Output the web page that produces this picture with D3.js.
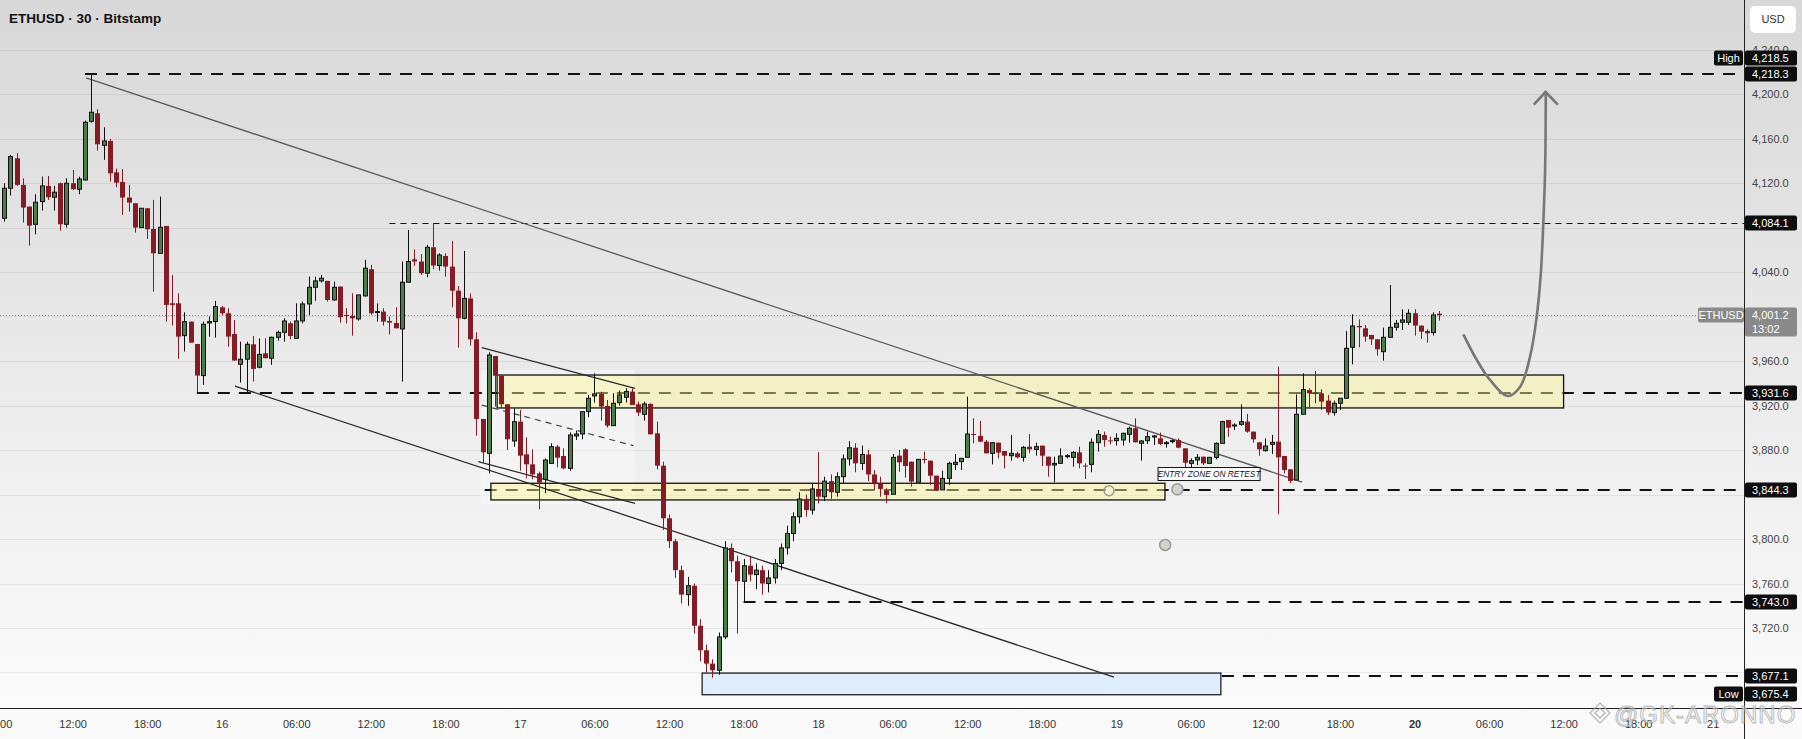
<!DOCTYPE html>
<html>
<head>
<meta charset="utf-8">
<script src="https://cdn.jsdelivr.net/npm/d3@7"></script>
<style>
html, body { margin: 0; padding: 0; background: #fafafa; overflow: hidden; }
svg { display: block; font-family: "Liberation Sans", Arial, sans-serif; }
</style>
</head>
<body>
<svg id="main-svg" width="1802" height="739"></svg>
<script>
(function() {

    var at = function(d, h, m) { return new Date(2025, 7, d, h, m || 0); };

    // bars, 30 min, first one opens 15th 06:30
    var barStart = at(15, 6, 30);
    var barMinutes = 30;

    var opens = [
     4088.3,4115.3,4142.2,4118.3,4098.8,4082.9,4103.3,4117.4,4107.2,4119.8,4082.9,4119.8,
     4114.4,4122.7,4175.5,4182.7,4153.9,4157.8,4129.6,4120.9,4106.9,4101.8,4079.9,4097.3,
     4078.7,4056.8,4081.4,4011.9,4011.9,3982.8,3995.4,3975.3,3946.9,3994.2,3995.4,4008.3,
     4002.9,3984.3,3957.1,3961.6,3975.0,3954.4,3966.9,3962.5,3981.3,3985.8,3993.9,3980.4,
     3996.0,4011.3,4026.3,4032.0,4032.0,4014.9,4026.9,4001.4,4000.5,3997.8,4018.5,4042.5,
     4004.4,4004.4,3996.0,3994.2,3988.8,4030.8,4051.4,4049.4,4038.9,4062.2,4045.8,4054.4,
     4044.8,4023.2,3998.4,4016.3,3979.5,3907.9,3877.0,3964.5,3946.8,3921.1,3888.1,3905.5,
     3876.1,3867.1,3859.0,3853.6,3868.0,3883.0,3874.6,3863.5,3892.6,3894.4,3914.5,3928.6,
     3930.4,3919.6,3901.9,3922.6,3927.4,3932.5,3921.1,3912.1,3921.4,3895.0,3865.9,3818.6,
     3798,3772,3750,3758,3722,3700,3688,3682,3712,3792,3780,3762,
     3776,3768,3772,3760,3765,3778,3792,3805,3820,3836,3826,3845,
     3838,3852,3842,3856,3872,3882,3868,3876,3858,3850,
     3843.5,3840.2,3874.9,3880.6,3869.5,3851.0,3871.9,3870.4,3856.9,3844.1,3854.5,3867.1,
     3869.5,3873.4,3894.4,3892.6,3887.5,3877.0,3886.6,3879.1,3874.9,3877.0,3873.4,3883.0,
     3880.6,3883.9,3874.0,3866.5,3868.0,3874.0,3873.4,3877.9,3866.0,3867.1,3886.6,3893.5,
     3888.6,3888.4,3889.0,3894.1,3899.5,3886.0,3888.4,3892.6,3890.5,3886.6,3888.4,3889.0,
     3881.5,3868.0,3871.0,3874.0,3868.0,3873.4,3886.0,3907.0,3902.5,3903.1,3905.5,3896.5,
     3886.9,3879.4,3885.1,3887.5,3874.6,3862.6,3853.0,3912.1,3933.9,3931.5,3931.0,3924.4,
     3913.6,3922.0,3926.5,3972.3,3991.5,3989.4,3983.4,3979.5,3968.4,3981.3,3990.3,3994.8,
     3994.8,4002.9,3991.8,3987.0,3985.5,4002.5
    ];
    var highs = [
     4119.8,4145.2,4146.7,4124.2,4098.8,4109.9,4125.7,4126.3,4117.4,4120.4,4124.2,4131.7,
     4125.7,4176.1,4218.5,4186.3,4170.1,4159.6,4132.9,4132.6,4118.3,4101.8,4097.3,4097.3,
     4104.8,4107.8,4081.4,4037.4,4020.9,4003.8,3995.4,3975.3,3995.4,3999.9,4014.0,4009.5,
     4007.4,3996.9,3977.4,3977.4,3982.5,3980.4,3980.4,3981.9,3987.3,3998.4,3995.4,4011.9,
     4013.4,4035.9,4035.9,4037.4,4032.0,4031.4,4026.9,4007.4,4020.9,4019.4,4050.9,4046.4,
     4011.9,4007.4,3999.9,4008.3,4049.4,4077.8,4060.4,4056.2,4064.3,4084.1,4056.8,4056.8,
     4067.9,4027.4,4058.9,4020.8,3985.8,3907.9,3967.8,3964.5,3946.8,3921.1,3917.5,3916.0,
     3891.4,3880.6,3860.5,3872.5,3886.0,3884.5,3881.5,3895.9,3897.4,3914.5,3929.5,3948.9,
     3932.5,3925.0,3931.0,3933.4,3935.5,3935.5,3923.5,3923.5,3922.0,3905.5,3869.5,3822.0,
     3800,3776,3766,3760,3728,3705,3692,3716,3798,3796,3785,3782,
     3784,3778,3776,3772,3782,3796,3812,3824,3842,3840,3850,3878,
     3856,3858,3860,3876,3888,3886,3884,3880,3862,3856,
     3845.6,3876.4,3880.0,3881.5,3869.5,3871.6,3878.5,3870.4,3856.9,3861.4,3869.5,3876.4,
     3872.5,3928.0,3908.5,3906.1,3889.0,3886.6,3886.6,3879.1,3893.5,3878.5,3883.6,3894.4,
     3886.6,3883.9,3874.0,3874.0,3881.5,3876.4,3879.1,3883.0,3868.0,3890.5,3898.0,3896.5,
     3892.0,3895.0,3895.6,3901.0,3908.5,3889.0,3896.5,3893.5,3895.6,3888.1,3889.6,3890.5,
     3881.5,3872.5,3876.4,3874.0,3873.4,3886.9,3906.4,3907.0,3904.0,3921.1,3912.4,3896.5,
     3886.9,3890.5,3893.5,3954.9,3874.6,3862.6,3930.0,3948.9,3935.5,3951.0,3934.6,3929.5,
     3924.4,3926.5,3987.0,4002.0,3997.5,3992.4,3983.4,3979.5,3990.0,4028.3,3996.9,4006.5,
     4006.5,4006.5,3991.8,3988.5,4003.8,4004.9
    ];
    var lows = [
     4085.3,4108.7,4117.4,4084.4,4063.7,4073.9,4095.2,4104.8,4095.2,4077.2,4079.9,4113.8,
     4109.9,4122.1,4174.3,4149.1,4140.8,4121.2,4116.2,4091.3,4094.3,4075.4,4079.9,4069.7,
     4022.4,4056.8,3995.4,3991.8,3961.9,3968.5,3976.5,3931.6,3938.5,3981.9,3981.0,4001.4,
     3972.9,3960.4,3940.6,3930.4,3941.5,3953.5,3962.5,3956.5,3978.3,3977.4,3979.5,3980.4,
     3993.9,4001.4,4014.0,4030.5,4013.4,4014.3,3994.5,3993.9,3982.8,3996.3,4017.9,4001.4,
     3995.4,3991.8,3984.0,3989.4,3941.5,4030.8,4045.5,4037.4,4035.3,4042.5,4041.3,4035.9,
     4008.2,3972.0,3997.5,3973.8,3892.9,3868.9,3859.0,3919.0,3917.5,3880.0,3883.0,3861.4,
     3854.6,3853.6,3826.7,3841.1,3867.4,3864.4,3862.6,3861.4,3889.0,3889.6,3909.4,3922.6,
     3906.4,3900.1,3901.9,3919.9,3922.6,3920.5,3910.6,3906.4,3894.1,3862.6,3808.1,3792.0,
     3765,3742,3740,3715,3690,3680,3675.4,3678,3710,3770,3715,3743,
     3762,3755,3750,3752,3760,3772,3786,3798,3814,3820,3822,3832,
     3834,3836,3838,3850,3866,3860,3862,3852,3844,3838,
     3832.1,3840.2,3860.5,3855.1,3847.1,3851.0,3868.0,3848.6,3843.5,3844.1,3848.6,3862.0,
     3862.0,3873.4,3886.0,3886.9,3877.0,3867.1,3872.5,3863.5,3870.4,3872.5,3869.5,3877.0,
     3874.9,3865.6,3856.0,3851.0,3868.0,3872.5,3865.0,3863.5,3854.0,3860.0,3878.5,3883.0,
     3885.1,3884.0,3884.0,3886.6,3886.9,3870.4,3885.4,3884.5,3884.5,3882.1,3886.0,3881.5,
     3863.5,3863.5,3866.5,3866.5,3867.4,3871.6,3886.0,3892.0,3898.0,3901.9,3895.6,3886.6,
     3874.9,3878.5,3876.4,3822.2,3859.0,3850.1,3853.0,3912.1,3917.5,3922.0,3916.0,3911.5,
     3910.9,3916.0,3926.5,3957.0,3972.3,3977.4,3974.4,3964.8,3960.3,3981.3,3987.3,3987.9,
     3992.4,3982.8,3979.8,3976.5,3982.8,3996.3
    ];
    var closes = [
     4115.3,4143.7,4118.3,4097.9,4081.7,4102.7,4117.4,4107.2,4111.7,4082.9,4119.8,4114.4,
     4123.6,4174.6,4183.6,4154.8,4157.8,4128.7,4120.3,4106.9,4102.4,4079.9,4097.3,4078.4,
     4056.8,4080.2,4010.4,4010.4,3981.9,3995.4,3976.5,3946.9,3993.0,3995.4,4008.9,4002.9,
     3981.9,3960.4,3961.6,3975.0,3952.9,3966.0,3962.5,3981.3,3985.8,3996.0,3982.5,3996.0,
     4011.3,4026.3,4032.0,4034.4,4014.9,4026.3,3999.3,4000.5,3998.4,4019.4,4043.4,4002.9,
     4004.4,3995.4,3994.5,3989.4,4030.8,4049.4,4049.4,4038.9,4062.2,4045.8,4055.3,4044.9,
     4023.2,3998.4,4016.3,3979.5,3907.9,3877.9,3965.4,3946.8,3921.1,3889.6,3905.5,3874.9,
     3867.1,3858.1,3850.7,3871.0,3883.0,3873.1,3863.5,3893.5,3894.4,3914.5,3926.5,3930.4,
     3919.0,3901.9,3922.0,3929.5,3932.5,3920.5,3913.6,3921.4,3894.1,3865.9,3818.6,3798.0,
     3772,3750,3758,3722,3700,3688,3682,3712,3792,3780,3762,3776,
     3768,3772,3760,3765,3778,3792,3805,3820,3836,3826,3845,3838,
     3852,3842,3856,3872,3882,3868,3876,3858,3850,3845,
     3839.6,3873.4,3868.9,3865.6,3851.6,3871.6,3871.3,3856.9,3843.5,3854.5,3868.0,3868.9,
     3872.5,3894.4,3893.5,3887.5,3877.0,3886.6,3877.6,3874.9,3877.0,3873.4,3882.4,3880.6,
     3883.0,3874.9,3865.9,3868.0,3874.6,3874.9,3877.9,3868.0,3865.6,3887.0,3894.1,3889.0,
     3888.4,3890.5,3895.0,3899.5,3886.9,3888.1,3892.0,3892.6,3885.4,3886.6,3888.4,3882.1,
     3868.6,3870.4,3873.4,3868.0,3873.4,3886.0,3905.5,3900.1,3902.5,3905.5,3896.5,3889.6,
     3880.6,3883.6,3886.9,3873.4,3862.0,3852.2,3912.1,3934.3,3931.0,3930.4,3923.5,3913.6,
     3922.0,3926.5,3971.4,3991.5,3990.3,3981.9,3979.5,3970.5,3981.3,3990.3,3993.9,3996.9,
     4002.9,3991.8,3986.4,3984.9,4001.4,4001.2
    ];

    var priceTicks = [4240,4200,4160,4120,4080,4040,4000,3960,3920,3880,3840,3800,3760,3720,3680];

    // horizontal levels
    var levelPrices = [4218.3, 3931.6, 3844.3, 3743.0, 3677.1];
    var levelFrom = [at(15,13,0), at(15,22,0), at(16,21,10), at(17,18,0), at(19,8,30)];
    var minorLevelPrice = 4084.1;
    var minorLevelFrom = at(16,13,30);

    var highPrice = 4218.5, lowPrice = 3675.4, lastPrice = 4001.2, countdown = "13:02";

    // zones [from, to, top price, bottom price]
    var zoneFrom = [at(16,22,10), at(16,21,40)];
    var zoneTo = [at(20,12,0), at(19,3,55)];
    var zoneTop = [3947.4, 3850.1];
    var zoneBottom = [3917.8, 3835.1];
    var lowBox = [at(17,14,40), at(19,8,25), 3679.5, 3660.0];
    var flagShade = [at(16,20,50), at(17,9,15), 3952.0, 3831.0];

    // trend lines [t1, p1, t2, p2]
    var trendLines = [
        [at(15,13,5), 4214.4, at(19,14,57), 3851.2],
        [at(16,1,4), 3937.5, at(18,23,49), 3675.9],
        [at(16,20,56), 3972.0, at(17,9,16), 3935.5],
        [at(16,20,39), 3869.5, at(17,9,16), 3832.1]
    ];
    var flagMid = [at(16,20,56), 3920.4, at(17,9,8), 3883.9];

    var arrowPath = [
        [at(20,3,56), 3984.0], [at(20,5,1), 3960.9], [at(20,6,5), 3942.9], [at(20,7,29), 3928.5],
        [at(20,8,30), 3936.9], [at(20,9,18), 3963.9], [at(20,9,50), 3999.8], [at(20,10,10), 4038.8],
        [at(20,10,22), 4083.8], [at(20,10,31), 4134.7], [at(20,10,34), 4200.6]
    ];
    var arrowHead = [[at(20,9,36), 4190.4], [at(20,10,33), 4201.8], [at(20,11,32), 4190.4]];

    var markers = [[at(18,23,25), 3843.4, false], [at(19,4,55), 3844.7, true], [at(19,3,56), 3794.6, true]];
    var noteText = "ENTRY ZONE ON RETEST";
    var noteAt = [at(19,7,28), 3858.4];

    var W = 1802, H = 739, plotRight = 1744, plotBottom = 708;

    var x = d3.scaleTime()
        .domain([at(16,0,0), at(21,0,0)])
        .range([221.7, 1712.7]);
    var y = d3.scaleLinear()
        .domain([3720, 4200])
        .range([628, 94]);

    var bars = opens.map(function(o, i) {
        return {
            t: d3.timeMinute.offset(barStart, i * barMinutes),
            o: o, h: highs[i], l: lows[i], c: closes[i]
        };
    });

    var svg = d3.select("#main-svg");
    var defs = svg.append("defs");
    var grad = defs.append("linearGradient")
        .attr("id", "bg").attr("x1", 0).attr("y1", 0).attr("x2", 0).attr("y2", 1);
    grad.append("stop").attr("offset", "0%").attr("stop-color", "#d8d8d8");
    grad.append("stop").attr("offset", "100%").attr("stop-color", "#fbfbfb");
    defs.append("clipPath").attr("id", "plot-clip")
        .append("rect").attr("width", plotRight).attr("height", plotBottom);

    svg.append("rect").attr("width", W).attr("height", plotBottom).attr("fill", "url(#bg)");
    svg.append("rect").attr("y", plotBottom).attr("width", W).attr("height", H - plotBottom).attr("fill", "#fafafa");

    var plot = svg.append("g").attr("clip-path", "url(#plot-clip)");

    // grid
    plot.selectAll(".grid")
    .data(priceTicks)
    .enter()
    .append("line")
    .attr("x1", 0).attr("x2", plotRight)
    .attr("y1", function(d) { return Math.round(y(d)) + 0.5; })
    .attr("y2", function(d) { return Math.round(y(d)) + 0.5; })
    .attr("stroke", "rgba(0,0,0,0.06)");

    // last price dotted line
    plot.append("line")
    .attr("x1", 0).attr("x2", plotRight)
    .attr("y1", Math.round(y(lastPrice)) + 0.5).attr("y2", Math.round(y(lastPrice)) + 0.5)
    .attr("stroke", "#888").attr("stroke-dasharray", "1,2");

    // flag shade
    plot.append("rect")
    .attr("x", x(flagShade[0])).attr("width", x(flagShade[1]) - x(flagShade[0]))
    .attr("y", y(flagShade[2])).attr("height", y(flagShade[3]) - y(flagShade[2]))
    .attr("fill", "rgba(255,255,255,0.35)");

    // levels
    plot.selectAll(".level")
    .data(levelPrices)
    .enter()
    .append("line")
    .attr("x1", function(d, i) { return x(levelFrom[i]); })
    .attr("x2", plotRight)
    .attr("y1", function(d) { return Math.round(y(d)); })
    .attr("y2", function(d) { return Math.round(y(d)); })
    .attr("stroke", "#111").attr("stroke-width", 2)
    .attr("stroke-dasharray", "12,9");

    plot.append("line")
    .attr("x1", x(minorLevelFrom)).attr("x2", plotRight)
    .attr("y1", Math.round(y(minorLevelPrice)) + 0.5).attr("y2", Math.round(y(minorLevelPrice)) + 0.5)
    .attr("stroke", "#111").attr("stroke-width", 1)
    .attr("stroke-dasharray", "6,5");

    // zones
    plot.selectAll(".zone")
    .data(zoneTop)
    .enter()
    .append("rect")
    .attr("x", function(d, i) { return x(zoneFrom[i]); })
    .attr("width", function(d, i) { return x(zoneTo[i]) - x(zoneFrom[i]); })
    .attr("y", function(d) { return y(d); })
    .attr("height", function(d, i) { return y(zoneBottom[i]) - y(d); })
    .attr("fill", "rgba(255,246,150,0.45)")
    .attr("stroke", "#111").attr("stroke-width", 1.3);

    plot.append("rect")
    .attr("x", x(lowBox[0])).attr("width", x(lowBox[1]) - x(lowBox[0]))
    .attr("y", y(lowBox[2])).attr("height", y(lowBox[3]) - y(lowBox[2]))
    .attr("fill", "rgba(205,228,255,0.6)")
    .attr("stroke", "#111").attr("stroke-width", 1.2);

    // trend lines
    plot.selectAll(".trend")
    .data(trendLines)
    .enter()
    .append("line")
    .attr("x1", function(d) { return x(d[0]); })
    .attr("y1", function(d) { return y(d[1]); })
    .attr("x2", function(d) { return x(d[2]); })
    .attr("y2", function(d) { return y(d[3]); })
    .attr("stroke", function(d, i) { return i === 0 ? "#5a5a5a" : "#2a2a2a"; })
    .attr("stroke-width", 1.3);

    plot.append("line")
    .attr("x1", x(flagMid[0])).attr("y1", y(flagMid[1]))
    .attr("x2", x(flagMid[2])).attr("y2", y(flagMid[3]))
    .attr("stroke", "#444").attr("stroke-width", 1.2)
    .attr("stroke-dasharray", "6,5");

    // candles
    var candle = plot.selectAll(".candle")
    .data(bars)
    .enter()
    .append("g")
    .classed("candle", true);

    candle.append("line")
    .attr("x1", function(d) { return Math.round(x(d.t)) + 0.5; })
    .attr("x2", function(d) { return Math.round(x(d.t)) + 0.5; })
    .attr("y1", function(d) { return y(d.h); })
    .attr("y2", function(d) { return y(d.l); })
    .attr("stroke", function(d) { return d.c >= d.o ? "#111" : "#861a25"; })
    .attr("stroke-width", 1);

    candle.append("rect")
    .attr("x", function(d) { return d.c >= d.o ? Math.round(x(d.t)) - 1.5 : Math.round(x(d.t)) - 2; })
    .attr("width", function(d) { return d.c >= d.o ? 4 : 5; })
    .attr("y", function(d) { return y(Math.max(d.o, d.c)); })
    .attr("height", function(d) { return Math.max(1, Math.abs(y(d.o) - y(d.c))); })
    .attr("fill", function(d) { return d.c >= d.o ? "#4b7d49" : "#861a25"; })
    .attr("stroke", function(d) { return d.c >= d.o ? "#111" : "none"; })
    .attr("stroke-width", 1);

    // markers
    plot.selectAll(".marker")
    .data(markers)
    .enter()
    .append("circle")
    .attr("cx", function(d) { return x(d[0]); })
    .attr("cy", function(d) { return y(d[1]); })
    .attr("r", function(d) { return d[2] ? 5.5 : 5; })
    .attr("fill", function(d) { return d[2] ? "#d6d3cc" : "none"; })
    .attr("stroke", "#9a9a9a")
    .attr("stroke-width", 1.5);

    // note
    var note = plot.append("g")
        .attr("transform", "translate(" + x(noteAt[0]) + "," + y(noteAt[1]) + ")");
    note.append("rect")
    .attr("x", -51).attr("y", -6.5).attr("width", 102).attr("height", 13)
    .attr("fill", "#fff").attr("stroke", "#111").attr("stroke-width", 1);
    note.append("text")
    .attr("text-anchor", "middle").attr("dy", "0.35em")
    .attr("font-size", 8.3).attr("font-style", "italic")
    .attr("fill", "#111")
    .text(noteText);

    // arrow
    var arrowLine = d3.line()
        .x(function(d) { return x(d[0]); })
        .y(function(d) { return y(d[1]); });
    plot.append("path")
    .attr("d", arrowLine.curve(d3.curveCatmullRom)(arrowPath))
    .attr("fill", "none").attr("stroke", "#777").attr("stroke-width", 2.6);
    plot.append("path")
    .attr("d", arrowLine.curve(d3.curveLinear)(arrowHead))
    .attr("fill", "none").attr("stroke", "#777").attr("stroke-width", 2.6);

    // axes
    var timeTicks = d3.timeHour.every(6).range(at(15,6,0), at(21,0,1));
    var xAxis = d3.axisBottom(x)
        .tickValues(timeTicks)
        .tickSize(0)
        .tickPadding(12)
        .tickFormat(function(d) {
            return d.getHours() === 0 ? d3.timeFormat("%-d")(d) : d3.timeFormat("%H:%M")(d);
        });
    var gx = svg.append("g")
        .attr("transform", "translate(0," + plotBottom + ")")
        .call(xAxis);
    gx.select(".domain").remove();
    gx.selectAll("text")
    .attr("font-size", 11).attr("fill", "#333")
    .attr("font-family", "Liberation Sans, Arial, sans-serif")
    .attr("font-weight", function(d) { return +d === +at(20,0,0) ? "bold" : "normal"; });

    // price ticks hidden under a label, as the platform does
    var tagged = levelPrices.concat([minorLevelPrice, lastPrice]);
    var shownTicks = priceTicks.filter(function(p) {
        return tagged.every(function(q) { return Math.abs(y(p) - y(q)) > 6; });
    });
    var yAxis = d3.axisRight(y)
        .tickValues(shownTicks)
        .tickSize(0)
        .tickPadding(8)
        .tickFormat(d3.format(",.1f"));
    var gy = svg.append("g")
        .attr("transform", "translate(" + plotRight + ",0)")
        .call(yAxis);
    gy.select(".domain").remove();
    gy.selectAll("text")
    .attr("font-size", 11).attr("fill", "#444")
    .attr("font-family", "Liberation Sans, Arial, sans-serif");

    // axis lines
    svg.append("line")
    .attr("x1", 0).attr("x2", W)
    .attr("y1", plotBottom + 0.5).attr("y2", plotBottom + 0.5)
    .attr("stroke", "#222");
    svg.append("line")
    .attr("x1", plotRight + 0.5).attr("x2", plotRight + 0.5)
    .attr("y1", 0).attr("y2", H)
    .attr("stroke", "#222");

    // price labels on the axis
    var tag = function(price, offset, fill, label) {
        var cy = Math.round(y(price)) + offset;
        svg.append("rect")
        .attr("x", plotRight + 1).attr("y", cy - 7.5)
        .attr("width", 52).attr("height", 15).attr("rx", 2)
        .attr("fill", fill);
        svg.append("text")
        .attr("x", plotRight + 8).attr("y", cy).attr("dy", "0.35em")
        .attr("font-size", 11).attr("fill", "#fff")
        .text(d3.format(",.1f")(price));
        if (label) {
            svg.append("rect")
            .attr("x", plotRight - 30).attr("y", cy - 7.5)
            .attr("width", 29).attr("height", 15).attr("rx", 2)
            .attr("fill", fill);
            svg.append("text")
            .attr("x", plotRight - 15.5).attr("y", cy).attr("dy", "0.35em")
            .attr("text-anchor", "middle")
            .attr("font-size", 11).attr("fill", "#fff")
            .text(label);
        }
    };

    levelPrices.concat([minorLevelPrice]).forEach(function(p) { tag(p, 0, "#0d0d0d"); });
    tag(highPrice, -15, "#0d0d0d", "High");
    tag(lowPrice, 16, "#0d0d0d", "Low");

    // last price
    var ly = Math.round(y(lastPrice));
    svg.append("rect")
    .attr("x", plotRight - 46).attr("y", ly - 7.5).attr("width", 46).attr("height", 15).attr("rx", 2)
    .attr("fill", "#8a8a8a");
    svg.append("text")
    .attr("x", plotRight - 23).attr("y", ly).attr("dy", "0.35em").attr("text-anchor", "middle")
    .attr("font-size", 11).attr("fill", "#fff").text("ETHUSD");
    svg.append("rect")
    .attr("x", plotRight + 1).attr("y", ly - 7.5).attr("width", 52).attr("height", 29).attr("rx", 2)
    .attr("fill", "#8a8a8a");
    svg.append("text")
    .attr("x", plotRight + 8).attr("y", ly).attr("dy", "0.35em")
    .attr("font-size", 11).attr("fill", "#fff").text(d3.format(",.1f")(lastPrice));
    svg.append("text")
    .attr("x", plotRight + 8).attr("y", ly + 14).attr("dy", "0.35em")
    .attr("font-size", 11).attr("fill", "#fff").text(countdown);

    // USD button
    svg.append("rect")
    .attr("x", 1750).attr("y", 6).attr("width", 46).attr("height", 27).attr("rx", 5)
    .attr("fill", "#fff");
    svg.append("text")
    .attr("x", 1773).attr("y", 19.5).attr("dy", "0.35em").attr("text-anchor", "middle")
    .attr("font-size", 11).attr("fill", "#333").text("USD");

    // title
    svg.append("text")
    .attr("x", 9).attr("y", 18).attr("dy", "0.35em")
    .attr("font-size", 13.5).attr("font-weight", "bold").attr("fill", "#131313")
    .text("ETHUSD \u00b7 30 \u00b7 Bitstamp");

    // watermark
    var wm = svg.append("g").attr("opacity", 0.75);
    wm.append("path")
    .attr("d", "M1600,703 L1610,713 L1600,723 L1590,713 Z M1600,708 L1605,713 L1600,718 L1595,713 Z")
    .attr("fill", "none").attr("stroke", "#9c9c9c").attr("stroke-width", 1.2);
    wm.append("text")
    .attr("x", 1614).attr("y", 723)
    .attr("font-size", 24).attr("letter-spacing", 1)
    .attr("fill", "rgba(255,255,255,0.7)").attr("stroke", "#a0a0a0").attr("stroke-width", 0.9)
    .text("@GK-ARONNO");

})();
</script>
</body>
</html>
